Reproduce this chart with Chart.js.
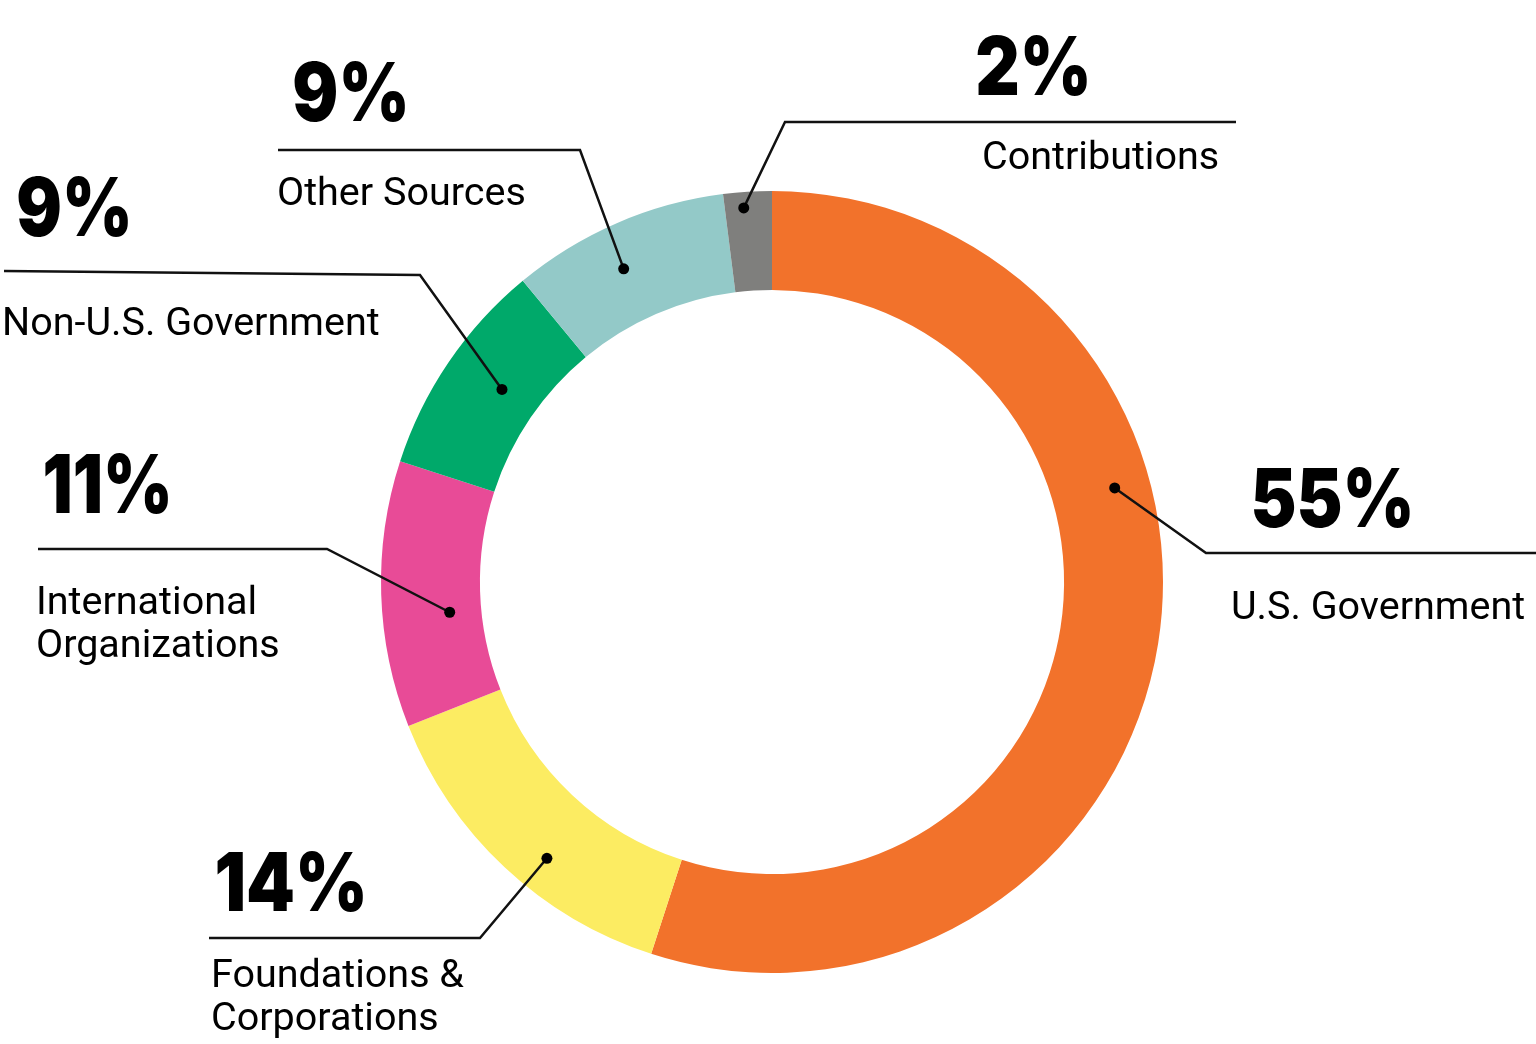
<!DOCTYPE html>
<html>
<head>
<meta charset="utf-8">
<script src="https://cdn.jsdelivr.net/npm/chart.js@4/dist/chart.umd.min.js"></script>
<style>
html,body{margin:0;padding:0;background:#fff;}
#wrap{position:relative;width:1536px;height:1044px;}
canvas{display:block;}
</style>
</head>
<body>
<div id="wrap"><canvas id="c" width="1536" height="1044"></canvas></div>
<script>
// ---- data ----
const categories = ["U.S. Government","Foundations & Corporations","International Organizations","Non-U.S. Government","Other Sources","Contributions"];
const values = [55, 14, 11, 9, 9, 2];
const pctLabels = ["55%","14%","11%","9%","9%","2%"];
const nameLines = [["U.S. Government"],["Foundations &","Corporations"],["International","Organizations"],["Non-U.S. Government"],["Other Sources"],["Contributions"]];
const colors = ["#F2722B","#FCEC62","#E84B97","#00A96A","#93C9C8","#7F7F7D"];

// ---- layout of callouts (positions only) ----
// dot: [fraction along arc, fraction across ring]; path: elbow then end point;
// pct: [inkLeft, inkRight, baseline]; name: [left, baseline]
const callouts = [
  {dot:[0.377,0.64], path:[[1206,553],[1536,553]], pct:[1254,1410,527], name:[1231,619]},
  {dot:[0.42,0.65], path:[[480,938],[209,938]], pct:[217,363,911], name:[211,987]},
  {dot:[0.41,0.32], path:[[327,549],[38,549]], pct:[45,168,513], name:[36,614]},
  {dot:[0.54,0.40], path:[[420,275],[4,271]], pct:[18,128,236], name:[2,335]},
  {dot:[0.44,0.55], path:[[580,150],[278,150]], pct:[294,405,121], name:[277,205]},
  {dot:[0.40,0.84], path:[[785,122],[1236,122]], pct:[977,1087,95], name:[982,169]}
];

const calloutPlugin = {
  id:'callouts',
  afterDraw(chart){
    const ctx = chart.ctx;
    const arcs = chart.getDatasetMeta(0).data;
    ctx.save();
    arcs.forEach((arc,i)=>{
      const c = callouts[i];
      const p = arc.getProps(['x','y','startAngle','endAngle','innerRadius','outerRadius'], true);
      const a = p.startAngle + c.dot[0]*(p.endAngle-p.startAngle);
      const r = p.innerRadius + c.dot[1]*(p.outerRadius-p.innerRadius);
      const dx = p.x + Math.cos(a)*r, dy = p.y + Math.sin(a)*r;
      ctx.strokeStyle = '#111';
      ctx.lineWidth = 2.5;
      ctx.lineJoin = 'miter';
      ctx.beginPath();
      ctx.moveTo(dx,dy);
      c.path.forEach(pt=>ctx.lineTo(pt[0],pt[1]));
      ctx.stroke();
      ctx.fillStyle = '#000';
      ctx.beginPath();
      ctx.arc(dx,dy,5.5,0,Math.PI*2);
      ctx.fill();
      ctx.textAlign='left';
      ctx.textBaseline='alphabetic';
      // percentage, fitted to its box
      ctx.font = '900 81px Inter, Roboto, sans-serif';
      const m = ctx.measureText(pctLabels[i]);
      const ink = m.actualBoundingBoxLeft + m.actualBoundingBoxRight;
      const sx = (c.pct[1]-c.pct[0]) / ink;
      ctx.save();
      ctx.translate(c.pct[0], c.pct[2]);
      ctx.scale(sx, 1);
      ctx.fillText(pctLabels[i], m.actualBoundingBoxLeft, 0);
      ctx.restore();
      ctx.font = '400 39.5px Roboto, "Liberation Sans", sans-serif';
      nameLines[i].forEach((ln,k)=>ctx.fillText(ln, c.name[0], c.name[1]+k*43));
    });
    ctx.restore();
  }
};

new Chart(document.getElementById('c'), {
  type:'doughnut',
  data:{labels:categories, datasets:[{data:values, backgroundColor:colors, borderWidth:0, hoverOffset:0}]},
  options:{
    responsive:false,
    animation:false,
    cutout:'74.7%',
    layout:{padding:{top:191,bottom:71,left:381,right:373}},
    plugins:{legend:{display:false}, tooltip:{enabled:false}},
    events:[]
  },
  plugins:[calloutPlugin]
});
</script>
</body>
</html>
